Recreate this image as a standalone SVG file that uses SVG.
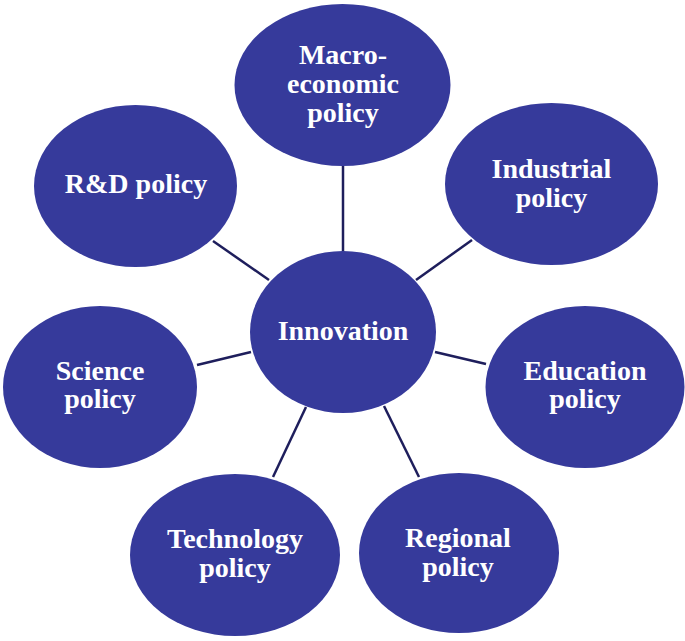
<svg xmlns="http://www.w3.org/2000/svg" width="685" height="641" viewBox="0 0 685 641">
<style>
.n{fill:#363a9b}
.t{fill:#fff;font-family:"Liberation Serif","Times New Roman",serif;font-weight:bold;font-size:28px;text-anchor:middle}
.c line{stroke:#1e1e5c;stroke-width:2.5}
</style>
<rect width="685" height="641" fill="#fff"/>
<g id="connectors" class="c">
<line x1="343" y1="166" x2="343" y2="252"/>
<line x1="213" y1="241" x2="269" y2="280"/>
<line x1="472" y1="240" x2="416" y2="280"/>
<line x1="197" y1="365" x2="251" y2="352"/>
<line x1="435" y1="352" x2="486" y2="364"/>
<line x1="273" y1="477" x2="306" y2="407"/>
<line x1="419" y1="477" x2="384" y2="406"/>
</g>
<g id="macro">
<ellipse class="n" cx="342.5" cy="85" rx="108" ry="81"/>
<text class="t" x="343" y="64">Macro-</text>
<text class="t" x="343" y="93">economic</text>
<text class="t" x="343" y="122">policy</text>
</g>
<g id="rd">
<ellipse class="n" cx="135.5" cy="186" rx="101.5" ry="81"/>
<text class="t" x="136" y="193">R&amp;D policy</text>
</g>
<g id="industrial">
<ellipse class="n" cx="551.5" cy="184" rx="106.5" ry="81"/>
<text class="t" x="551.5" y="178">Industrial</text>
<text class="t" x="551.5" y="207">policy</text>
</g>
<g id="innovation">
<ellipse class="n" cx="343" cy="332" rx="93" ry="81"/>
<text class="t" x="343" y="340">Innovation</text>
</g>
<g id="science">
<ellipse class="n" cx="100" cy="387" rx="97" ry="81"/>
<text class="t" x="100" y="380">Science</text>
<text class="t" x="100" y="408">policy</text>
</g>
<g id="education">
<ellipse class="n" cx="585" cy="387" rx="99.5" ry="81"/>
<text class="t" x="585" y="380">Education</text>
<text class="t" x="585" y="408">policy</text>
</g>
<g id="technology">
<ellipse class="n" cx="235" cy="555" rx="105" ry="81"/>
<text class="t" x="235" y="548">Technology</text>
<text class="t" x="235" y="577">policy</text>
</g>
<g id="regional">
<ellipse class="n" cx="459" cy="553" rx="100" ry="80"/>
<text class="t" x="458" y="547">Regional</text>
<text class="t" x="458" y="576">policy</text>
</g>
</svg>
